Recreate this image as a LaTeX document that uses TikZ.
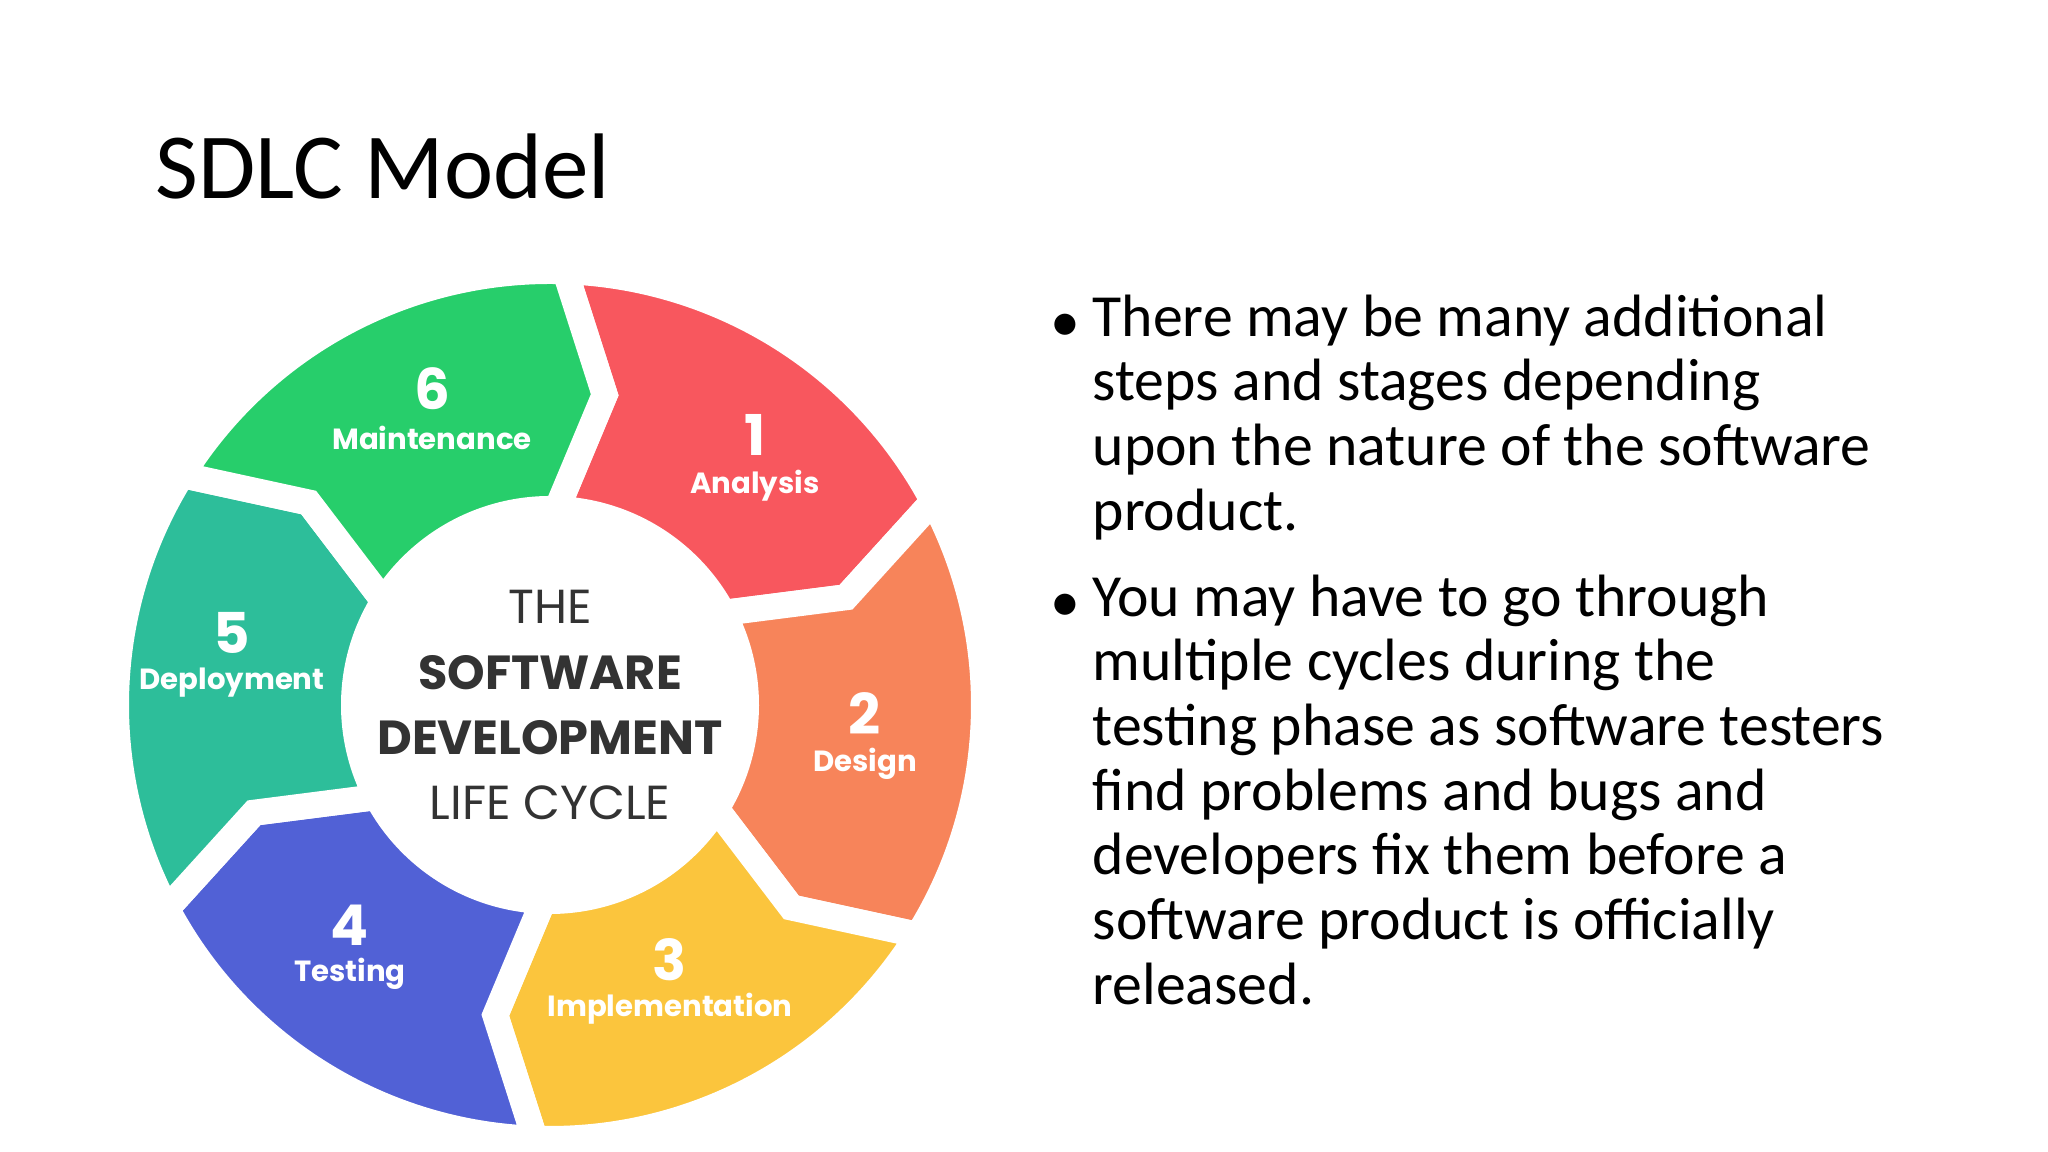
\documentclass[tikz,border=0pt]{standalone}
\usepackage{fontspec}
\setmainfont{Carlito}
\newfontfamily\pop{Poppins}
\usetikzlibrary{calc}
\begin{document}
\begin{tikzpicture}
\useasboundingbox (0,0) rectangle (20.48,11.52);
\definecolor{cA}{HTML}{F8575E}
\definecolor{cB}{HTML}{F7845A}
\definecolor{cC}{HTML}{FBC53D}
\definecolor{cD}{HTML}{5161D6}
\definecolor{cE}{HTML}{2DBE9A}
\definecolor{cF}{HTML}{27CE6B}
\definecolor{ctxt}{HTML}{333333}
\tikzset{seg/.style={draw=white,line width=7.4pt,line join=miter},
 num/.style={text=white,font=\pop\bfseries\fontsize{16}{18}\selectfont},
 lab/.style={text=white,font=\pop\bfseries\fontsize{8.3}{10}\selectfont},
 ctr/.style={text=ctxt,align=center,font=\pop\fontsize{13.6}{18.5}\selectfont},
 bul/.style={anchor=north west,align=left,inner sep=0,font=\fontsize{17}{18.4}\selectfont},
 dot/.style={anchor=base west,inner sep=0,font=\fontsize{17}{18.4}\selectfont}}
\coordinate (c) at (5.50,4.47);
\def\R{4.34}\def\r{1.96}\def\m{3.15}
\foreach \k/\col in {0/cA,1/cB,2/cC,3/cD,4/cE,5/cF}{
 \pgfmathsetmacro\a{88-60*\k}
 \pgfmathsetmacro\b{\a-60}
 \fill[\col] ($(c)+(\a:\R)$) arc[start angle=\a,end angle=\b,radius=\R]
   -- ($(c)+(\b-8:\m)$) -- ($(c)+(\b:\r)$)
   arc[start angle=\b,end angle=\a,radius=\r] -- ($(c)+(\a-8:\m)$) -- cycle;
 \draw[seg] ($(c)+(\a:\R)$) arc[start angle=\a,end angle=\b,radius=\R]
   -- ($(c)+(\b-8:\m)$) -- ($(c)+(\b:\r)$)
   arc[start angle=\b,end angle=\a,radius=\r] -- ($(c)+(\a-8:\m)$) -- cycle;
}
\node[num] (n6) at (4.32,7.63) {6}; \node[lab] (l6) at (4.32,7.14) {Maintenance};
\node[num] (n1) at (7.55,7.17) {1}; \node[lab] (l1) at (7.55,6.66) {Analysis};
\node[num] (n2) at (8.65,4.38) {2}; \node[lab] (l2) at (8.65,3.88) {Design};
\node[num] (n3) at (6.70,1.92) {3}; \node[lab] (l3) at (6.70,1.43) {Implementation};
\node[num] (n4) at (3.50,2.27) {4}; \node[lab] (l4) at (3.50,1.78) {Testing};
\node[num] (n5) at (2.32,5.19) {5}; \node[lab] (l5) at (2.32,4.69) {Deployment};
\node[ctr] (ct) at (c) {THE\\ \textbf{SOFTWARE}\\ \textbf{DEVELOPMENT}\\ LIFE CYCLE};
\node[anchor=base west,inner sep=0,font=\fontsize{26.5}{30}\selectfont] (title) at (1.55,9.53) {SDLC Model};
\node[dot] (b1d) at (10.50,8.10) {•};
\node[bul] (b1) at (10.92,8.58) {There may be many additional\\steps and stages depending\\upon the nature of the software\\product.};
\node[dot] (b2d) at (10.50,5.30) {•};
\node[bul] (b2) at (10.92,5.78) {You may have to go through\\multiple cycles during the\\testing phase as software testers\\find problems and bugs and\\developers fix them before a\\software product is officially\\released.};
\end{tikzpicture}
\end{document}
